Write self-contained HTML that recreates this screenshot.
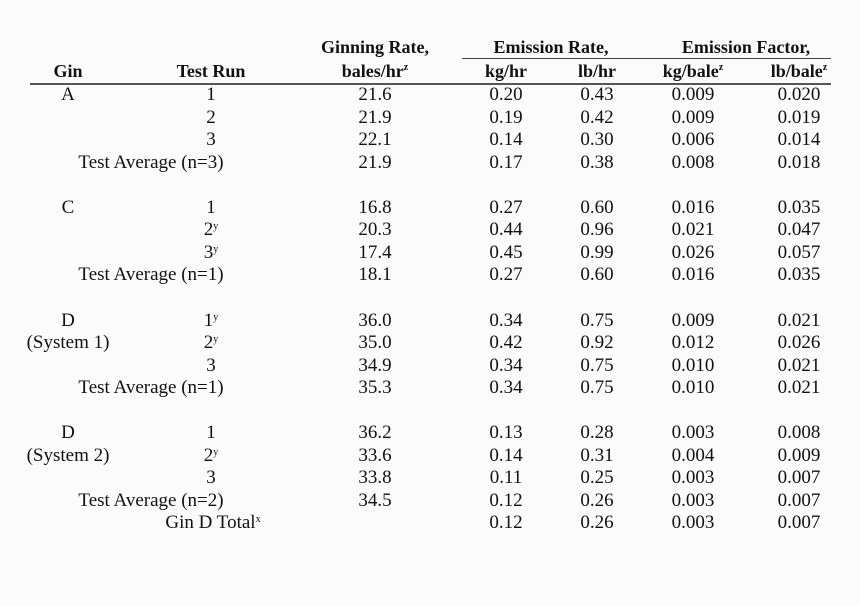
<!DOCTYPE html>
<html><head><meta charset="utf-8"><style>
body{margin:0;width:860px;height:606px;background:#fbfbfb;position:relative;overflow:hidden;font-family:"Liberation Serif",serif;color:#111;}
.t{position:absolute;font-size:19px;line-height:22px;white-space:nowrap;transform:translateX(-50%);}
.b{font-weight:bold;font-size:18px;}
sup{font-size:10px;vertical-align:top;position:relative;top:-3px;}
.ln{position:absolute;background:#333;}
</style></head><body>
<div id="tbl"></div>
<div class="ln" style="left:30px;top:83px;width:801px;height:2px;background:#555"></div>
<div class="ln" style="left:462px;top:58px;width:369px;height:1px;background:#444"></div>
<script>
const cols=[68,211,375,506,597,693,799];
const headers=[
 ["Ginning Rate,",375,47],["Emission Rate,",551,47],["Emission Factor,",746,47],
 ["Gin",68,71],["Test Run",211,71],["bales/hr<sup>z</sup>",375,71],["kg/hr",506,71],["lb/hr",597,71],["kg/bale<sup>z</sup>",693,71],["lb/bale<sup>z</sup>",799,71]];
const gin=["A","","","","","C","","","","","D","(System 1)","","","","D","(System 2)","","","",""];
const run=["1","2","3","","","1","2<sup>y</sup>","3<sup>y</sup>","","","1<sup>y</sup>","2<sup>y</sup>","3","","","1","2<sup>y</sup>","3","","",""];
const avg=["","","","Test Average (n=3)","","","","","Test Average (n=1)","","","","","Test Average (n=1)","","","","","Test Average (n=2)","",""];
const rate=["21.6","21.9","22.1","21.9","","16.8","20.3","17.4","18.1","","36.0","35.0","34.9","35.3","","36.2","33.6","33.8","34.5","",""];
const kghr=["0.20","0.19","0.14","0.17","","0.27","0.44","0.45","0.27","","0.34","0.42","0.34","0.34","","0.13","0.14","0.11","0.12","0.12"];
const lbhr=["0.43","0.42","0.30","0.38","","0.60","0.96","0.99","0.60","","0.75","0.92","0.75","0.75","","0.28","0.31","0.25","0.26","0.26"];
const kgb=["0.009","0.009","0.006","0.008","","0.016","0.021","0.026","0.016","","0.009","0.012","0.010","0.010","","0.003","0.004","0.003","0.003","0.003"];
const lbb=["0.020","0.019","0.014","0.018","","0.035","0.047","0.057","0.035","","0.021","0.026","0.021","0.021","","0.008","0.009","0.007","0.007","0.007"];
const tbl=document.getElementById('tbl');
function put(html,x,y,cls,name){
 const d=document.createElement('div');
 d.className='t'+(cls?' '+cls:'');
 
 
 d.style.left=x+'px';d.style.top=(y-11)+'px';d.innerHTML=html;tbl.appendChild(d);
}
headers.forEach(h=>put(h[0],h[1],h[2],'b','column-header'));
const y0=95,dy=22.55;
for(let i=0;i<20;i++){
 const y=y0+i*dy;
 if(gin[i])put(gin[i],cols[0],y,'','gin-label');
 if(run[i])put(run[i],cols[1],y,'','test-run');
 if(avg[i])put(avg[i],151,y,'','test-average-label');
 if(rate[i])put(rate[i],cols[2],y,'','ginning-rate-cell');
 if(kghr[i])put(kghr[i],cols[3],y,'','kg-hr-cell');
 if(lbhr[i])put(lbhr[i],cols[4],y,'','lb-hr-cell');
 if(kgb[i])put(kgb[i],cols[5],y,'','kg-bale-cell');
 if(lbb[i])put(lbb[i],cols[6],y,'','lb-bale-cell');
}
put("Gin D Total<sup>x</sup>",213,y0+19*dy,'','gin-d-total-label');
</script>
</body></html>
